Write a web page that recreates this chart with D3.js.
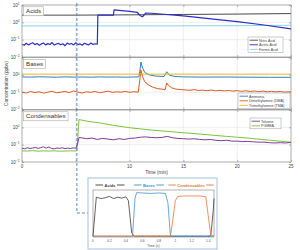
<!DOCTYPE html>
<html>
<head>
<meta charset="utf-8">
<script src="https://cdn.jsdelivr.net/npm/d3@7"></script>
<style>
  body { margin: 0; background: #fff; }
  svg { display: block; font-family: "Liberation Sans", Arial, sans-serif; }
</style>
</head>
<body>
<svg></svg>
<script>
/* Concentration time series, three log panels + inset */
var w = 300, h = 250;

var svg = d3.select("svg")
            .attr("width", w)
            .attr("height", h);

// ---- data: [time (min), ppbv] ----
var nitric = [[0,2.6],[5,2.6],[10,2.7],[15,2.85],[20,3.0],[25,3.2]];
var acetic = [[0,0.055],[0.2,0.048],[0.4,0.062],[0.6,0.05],[0.8,0.058],[1,0.066],[1.2,0.052],[1.4,0.06],
  [1.6,0.047],[1.8,0.057],[2,0.064],[2.2,0.05],[2.4,0.059],[2.6,0.053],[2.8,0.068],[3,0.049],[3.2,0.056],
  [3.4,0.061],[3.6,0.051],[3.8,0.058],[4,0.045],[4.2,0.063],[4.4,0.054],[4.6,0.06],[4.8,0.05],[5,0.066],
  [5.2,0.052],[5.4,0.057],[5.6,0.048],[5.8,0.062],[6,0.055],[6.2,0.05],[6.4,0.064],[6.6,0.053],[6.8,0.058],
  [7,0.056],[7.05,2.6],[8.5,2.6],[8.55,5.2],[10,4.3],[10.7,3.8],[11,2.4],[11.2,2.1],[11.5,3.4],[12,3.35],
  [15,2.35],[18,1.5],[20,1.1],[22.5,0.7],[25,0.42]];
var formic = [[0,0.62],[10,0.62],[20,0.64],[25,0.68]];

var ammonia = [[0,0.76],[0.8,0.74],[1.6,0.77],[2.4,0.75],[3.2,0.73],[4,0.76],[4.8,0.74],[5.6,0.75],
  [6.4,0.73],[7.2,0.76],[8,0.74],[8.8,0.75],[9.6,0.73],[10.4,0.75],[10.85,0.76],[10.95,1.6],[11.05,5.5],
  [11.2,2.5],[11.4,1.4],[11.8,1.0],[12.4,0.85],[13.2,0.8],[13.45,1.5],[13.7,0.95],[14.2,0.8],[15,0.76],
  [17,0.74],[19,0.75],[21,0.73],[23,0.72],[25,0.72]];
var dma = [[0,0.1],[0.4,0.09],[0.8,0.11],[1.2,0.095],[1.6,0.105],[2,0.088],[2.4,0.1],[2.8,0.112],[3.2,0.092],
  [3.6,0.1],[4,0.108],[4.4,0.095],[4.8,0.118],[5.2,0.1],[5.6,0.09],[6,0.105],[6.4,0.098],[6.8,0.11],[7.2,0.093],
  [7.6,0.102],[8,0.115],[8.4,0.097],[8.8,0.105],[9.2,0.1],[9.6,0.11],[10,0.098],[10.4,0.106],[10.8,0.1],
  [10.95,0.5],[11.05,1.9],[11.2,0.8],[11.4,0.4],[11.8,0.25],[12.2,0.19],[12.6,0.16],[13,0.15],[13.3,0.14],
  [13.45,0.34],[13.6,0.25],[13.9,0.18],[14.3,0.15],[14.8,0.14],[15.2,0.135],[15.6,0.128],[16,0.14],[16.4,0.125],
  [16.8,0.13],[17.2,0.122],[17.6,0.132],[18,0.12],[18.4,0.127],[18.8,0.118],[19.2,0.125],[19.6,0.115],[20,0.122],
  [20.4,0.112],[20.8,0.12],[21.2,0.11],[21.6,0.117],[22,0.108],[22.4,0.115],[22.8,0.105],[23.2,0.112],[23.6,0.104],
  [24,0.11],[24.4,0.1],[24.8,0.106],[25,0.102]];
var tma = [[0,1.1],[5,1.1],[10.9,1.1],[11.05,1.2],[11.3,1.1],[18,1.1],[25,1.1]];

var toluene = [[0,0.062],[0.25,0.058],[0.5,0.066],[0.75,0.06],[1,0.064],[1.25,0.07],[1.5,0.061],[1.75,0.068],
  [2,0.075],[2.25,0.063],[2.5,0.074],[2.75,0.06],[3,0.058],[3.25,0.064],[3.5,0.061],[3.75,0.066],[4,0.059],
  [4.25,0.063],[4.5,0.06],[4.75,0.065],[5,0.062],[5.15,0.1],[5.3,0.26],[5.5,0.25],[6,0.22],[6.5,0.24],[7,0.2],
  [7.5,0.23],[8,0.21],[8.5,0.19],[9,0.22],[9.5,0.2],[10,0.23],[10.5,0.24],[11,0.27],[11.5,0.28],[12,0.26],
  [12.5,0.25],[13,0.26],[13.5,0.3],[14,0.25],[14.5,0.23],[15,0.22],[15.5,0.21],[16,0.22],[16.5,0.2],[17,0.19],
  [17.5,0.2],[18,0.18],[18.5,0.17],[19,0.18],[19.5,0.16],[20,0.16],[20.5,0.15],[21,0.155],[21.5,0.145],
  [22,0.14],[22.5,0.14],[23,0.13],[23.5,0.125],[24,0.13],[24.5,0.125],[25,0.135]];
var pgmea = [[0,0.044],[0.5,0.043],[1,0.045],[1.5,0.042],[2,0.044],[2.5,0.043],[3,0.044],[3.5,0.042],
  [4,0.043],[4.5,0.044],[5,0.043],[5.1,0.05],[5.3,2.8],[6,2.3],[7.2,1.8],[8.5,1.3],[10,0.95],[12,0.7],
  [14,0.55],[16.5,0.41],[19,0.3],[21,0.24],[23,0.18],[25,0.14]];

// inset: [time (s), normalised signal]
var inset_acids = [[0,0.02],[0.04,0.93],[0.1,0.9],[0.15,0.92],[0.2,0.95],[0.25,0.9],[0.3,0.93],[0.35,0.91],
  [0.4,0.94],[0.43,0.85],[0.47,0.1],[0.5,0.02],[1.43,0.02],[1.46,0.6],[1.47,0.9]];
var inset_bases = [[0,0.02],[0.48,0.02],[0.51,0.9],[0.53,1.04],[0.6,1.03],[0.7,1.02],[0.8,1.03],[0.88,1.02],
  [0.91,0.8],[0.94,0.05],[0.96,0.02],[1.47,0.02]];
var inset_cond = [[0,0.02],[0.94,0.02],[0.97,0.4],[1.0,0.85],[1.03,0.95],[1.1,0.96],[1.2,0.96],[1.3,0.96],
  [1.37,0.94],[1.4,0.5],[1.43,0.05],[1.47,0.02]];

var x_ticks = [0, 10, 15, 20, 25];
var y_exps = [-2, -1, 0, 1];
var inset_ticks = [0, 0.2, 0.4, 0.6, 0.8, 1, 1.2, 1.4];

var panels = [
  { name: "Acids", top: 5, leg: [248, 37, 35],
    series: [ { label: "Nitric Acid", data: nitric, color: "#4a4a4a", lw: 1 },
              { label: "Formic Acid", data: formic, color: "#86d6ea", lw: 1 },
              { label: "Acetic Acid", data: acetic, color: "#2d2dc4", lw: 1.2 } ],
    order: [0, 2, 1] },
  { name: "Bases", top: 57.5, leg: [238, 93, 52],
    series: [ { label: "Ammonia", data: ammonia, color: "#2f80c4", lw: 1 },
              { label: "Dimethylamine (DMA)", data: dma, color: "#dd5a1e", lw: 1 },
              { label: "Trimethylamine (TMA)", data: tma, color: "#eebb2a", lw: 1 } ],
    order: [0, 1, 2] },
  { name: "Condensables", top: 110, leg: [250, 118, 31],
    series: [ { label: "PGMEA", data: pgmea, color: "#7cc43a", lw: 1 },
              { label: "Toluene", data: toluene, color: "#7e3a96", lw: 1 } ],
    order: [1, 0] }
];

var ph = 52;
var x = d3.scaleLinear().domain([0, 25]).range([22, 291]);

panels.forEach(function(p, i) {
  var y = d3.scaleLog().domain([0.01, 10]).range([p.top + ph, p.top]);
  var g = svg.append("g");

  // grid
  g.selectAll(".vg").data([5, 10, 15, 20]).enter().append("line")
    .attr("x1", function(d) { return x(d); }).attr("x2", function(d) { return x(d); })
    .attr("y1", p.top).attr("y2", p.top + ph)
    .attr("stroke", "#e4e4e4").attr("stroke-width", 0.6);
  g.selectAll(".hg").data([0.1, 1]).enter().append("line")
    .attr("x1", x(0)).attr("x2", x(25))
    .attr("y1", function(d) { return y(d); }).attr("y2", function(d) { return y(d); })
    .attr("stroke", "#e4e4e4").attr("stroke-width", 0.6);

  // series
  var line = d3.line()
               .x(function(d) { return x(d[0]); })
               .y(function(d) { return y(d[1]); });
  g.selectAll(".series").data(p.series).enter().append("path")
    .attr("d", function(d) { return line(d.data); })
    .attr("fill", "none")
    .attr("stroke", function(d) { return d.color; })
    .attr("stroke-width", function(d) { return d.lw; })
    .attr("stroke-linejoin", "round");

  // axes (ticks inward, on all sides)
  var tv = y_exps.map(function(e) { return Math.pow(10, e); });
  var ax = g.append("g");
  ax.append("g").attr("transform", "translate(" + x(0) + ",0)")
    .call(d3.axisRight(y).tickValues(tv).tickSize(2).tickSizeOuter(0).tickFormat(""));
  ax.append("g").attr("transform", "translate(" + x(25) + ",0)")
    .call(d3.axisLeft(y).tickValues(tv).tickSize(2).tickSizeOuter(0).tickFormat(""));
  ax.append("g").attr("transform", "translate(0," + (p.top + ph) + ")")
    .call(d3.axisTop(x).tickValues([0, 5, 10, 15, 20, 25]).tickSize(2).tickSizeOuter(0).tickFormat(""));
  ax.append("g").attr("transform", "translate(0," + p.top + ")")
    .call(d3.axisBottom(x).tickValues([0, 5, 10, 15, 20, 25]).tickSize(2).tickSizeOuter(0).tickFormat(""));
  ax.selectAll(".domain").remove();
  ax.selectAll(".tick text").remove();
  ax.selectAll(".tick line").attr("stroke", "#777").attr("stroke-width", 0.5);

  g.append("rect")
    .attr("x", x(0)).attr("y", p.top)
    .attr("width", x(25) - x(0)).attr("height", ph)
    .attr("fill", "none").attr("stroke", "#8a8a8a").attr("stroke-width", 0.7);

  // y tick labels 10^n (top label shared with the panel above)
  var exps = i === 0 ? y_exps : y_exps.slice(0, 3);
  var lab = g.selectAll(".ylab").data(exps).enter().append("text")
    .attr("x", 19.5)
    .attr("y", function(d) { return y(Math.pow(10, d)) + 1.5; })
    .attr("text-anchor", "end")
    .attr("font-size", 4.5)
    .attr("fill", "#444");
  lab.append("tspan").text("10");
  lab.append("tspan").attr("dy", -1.8).attr("font-size", 3.2)
    .text(function(d) { return d < 0 ? "\u2212" + (-d) : d; });

  // panel name box
  var nb = g.append("g");
  var nbox = nb.append("rect")
    .attr("x", 23.5).attr("y", p.top + 1.8).attr("height", 9)
    .attr("fill", "#fff").attr("stroke", "#999").attr("stroke-width", 0.5);
  var nm = nb.append("text").attr("x", 26).attr("y", p.top + 8.3)
    .attr("font-size", 6.2).attr("fill", "#333").text(p.name);
  nbox.attr("width", nm.node().getComputedTextLength() + 5);

  // legend
  var lx = p.leg[0], ly = p.leg[1], lw = p.leg[2];
  var items = p.order.map(function(k) { return p.series[k]; });
  var lg = g.append("g");
  lg.append("rect").attr("x", lx).attr("y", ly)
    .attr("width", lw).attr("height", items.length * 4.6 + 1.6)
    .attr("fill", "#fff").attr("stroke", "#999").attr("stroke-width", 0.5);
  items.forEach(function(s, k) {
    var yy = ly + 3.2 + k * 4.6;
    lg.append("line").attr("x1", lx + 1.5).attr("x2", lx + 10)
      .attr("y1", yy).attr("y2", yy)
      .attr("stroke", s.color).attr("stroke-width", 0.9);
    lg.append("text").attr("x", lx + 11).attr("y", yy + 1.3)
      .attr("font-size", 3.6).attr("fill", "#444").text(s.label);
  });

  if (i === panels.length - 1) {
    g.selectAll(".xlab").data(x_ticks).enter().append("text")
      .attr("x", function(d) { return x(d); })
      .attr("y", p.top + ph + 6)
      .attr("text-anchor", "middle")
      .attr("font-size", 4.5).attr("fill", "#444")
      .text(function(d) { return d; });
  }
});

svg.append("text")
   .attr("x", (x(0) + x(25)) / 2).attr("y", 174)
   .attr("text-anchor", "middle").attr("font-size", 4.8).attr("fill", "#444")
   .text("Time (min)");

svg.append("text")
   .attr("transform", "translate(7.5,83.5) rotate(-90)")
   .attr("text-anchor", "middle").attr("font-size", 4.8).attr("fill", "#444")
   .text("Concentration (ppbv)");

// dashed pointer to the inset
svg.append("path")
   .attr("d", "M" + x(5.1) + ",3V213H88")
   .attr("fill", "none")
   .attr("stroke", "#4a78c0").attr("stroke-width", 0.9)
   .attr("stroke-dasharray", "3,2");

// ---- inset ----
var ins = svg.append("g");
ins.append("rect").attr("x", 88).attr("y", 178).attr("width", 129).attr("height", 71)
   .attr("fill", "#fff").attr("stroke", "#a9bfdc").attr("stroke-width", 1);

var xi = d3.scaleLinear().domain([0, 1.47]).range([93, 214]);
var yi = d3.scaleLinear().domain([0, 1.1]).range([237, 190]);

ins.append("rect").attr("x", xi(0)).attr("y", yi(1.1))
   .attr("width", xi(1.47) - xi(0)).attr("height", yi(0) - yi(1.1))
   .attr("fill", "none").attr("stroke", "#666").attr("stroke-width", 0.5);

ins.append("g").attr("transform", "translate(0," + yi(0) + ")")
   .call(d3.axisTop(xi).tickValues(inset_ticks).tickSize(1.5).tickSizeOuter(0).tickFormat(""))
   .call(function(a) {
     a.select(".domain").remove();
     a.selectAll(".tick text").remove();
     a.selectAll("line").attr("stroke", "#666").attr("stroke-width", 0.4);
   });

ins.selectAll(".ilab").data(inset_ticks).enter().append("text")
   .attr("x", function(d) { return xi(d); }).attr("y", 241.5)
   .attr("text-anchor", "middle").attr("font-size", 3.2).attr("fill", "#555")
   .text(function(d) { return d; });
ins.append("text").attr("x", (xi(0) + xi(1.47)) / 2).attr("y", 246.5)
   .attr("text-anchor", "middle").attr("font-size", 3.4).attr("fill", "#555")
   .text("Time (s)");

var inset_series = [
  { label: "Acids", data: inset_acids, color: "#3a3a3a", cx: 110 },
  { label: "Bases", data: inset_bases, color: "#3d93cf", cx: 149 },
  { label: "Condensables", data: inset_cond, color: "#e8763c", cx: 191 }
];

var iline = d3.line()
              .x(function(d) { return xi(d[0]); })
              .y(function(d) { return yi(d[1]); });

ins.selectAll(".iser").data(inset_series).enter().append("path")
   .attr("d", function(d) { return iline(d.data); })
   .attr("fill", "none")
   .attr("stroke", function(d) { return d.color; })
   .attr("stroke-width", 0.8);

inset_series.forEach(function(s) {
  var t = ins.append("text").attr("x", s.cx).attr("y", 186.5)
    .attr("text-anchor", "middle").attr("font-size", 4).attr("font-weight", "bold")
    .attr("fill", s.color).text(s.label);
  var tw = t.node().getComputedTextLength();
  ins.append("line").attr("x1", s.cx - tw / 2 - 9).attr("x2", s.cx - tw / 2 - 1.5)
     .attr("y1", 185).attr("y2", 185).attr("stroke", s.color).attr("stroke-width", 0.9);
  ins.append("line").attr("x1", s.cx + tw / 2 + 1.5).attr("x2", s.cx + tw / 2 + 9)
     .attr("y1", 185).attr("y2", 185).attr("stroke", s.color).attr("stroke-width", 0.9);
});
</script>
</body>
</html>
